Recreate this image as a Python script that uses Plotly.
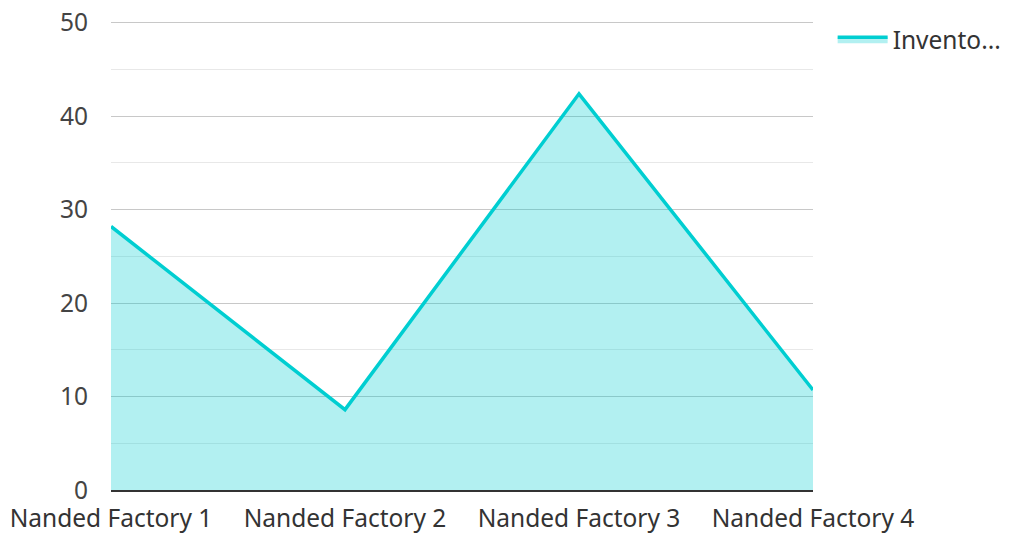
import plotly.graph_objects as go

categories = ["Nanded Factory 1", "Nanded Factory 2", "Nanded Factory 3", "Nanded Factory 4"]
inventory = [28.2, 8.6, 42.4, 10.7]
series_name = "Invento..."
y_ticks = [0, 10, 20, 30, 40, 50]

fig = go.Figure()
fig.add_trace(go.Scatter(
    x=categories, y=inventory, name=series_name, mode="lines",
    line=dict(color="#00CED1", width=3.5),
    fill="tozeroy", fillcolor="rgba(0,206,209,0.3)",
))

fig.update_layout(
    width=1002, height=525,
    margin=dict(l=103, r=197, t=12, b=43),
    paper_bgcolor="white", plot_bgcolor="white",
    font=dict(family="Noto Sans", size=24.5, color="#333"),
    showlegend=True,
    legend=dict(xref="container", yref="container", x=0.823, y=0.983,
                xanchor="left", yanchor="top",
                font=dict(size=24.5, color="#333"), itemwidth=50),
    xaxis=dict(type="category", range=[0, 3], showgrid=False, automargin=False,
               showline=True, linecolor="#333", linewidth=2, ticklabeloverflow="allow",
               ticks="", ticklabelstandoff=6, tickfont=dict(size=24.5, color="#333")),
    yaxis=dict(range=[0, 50.3], tickvals=y_ticks, automargin=False,
               ticklabeloverflow="allow",
               showgrid=True, gridcolor="#c8c8c8",
               gridwidth=1, zeroline=False, ticks="", ticklabelstandoff=22,
               tickfont=dict(size=24.5, color="#444"),
               minor=dict(dtick=5, showgrid=True, gridcolor="#e8e8e8", gridwidth=1)),
)

fig.write_html("out.html")
